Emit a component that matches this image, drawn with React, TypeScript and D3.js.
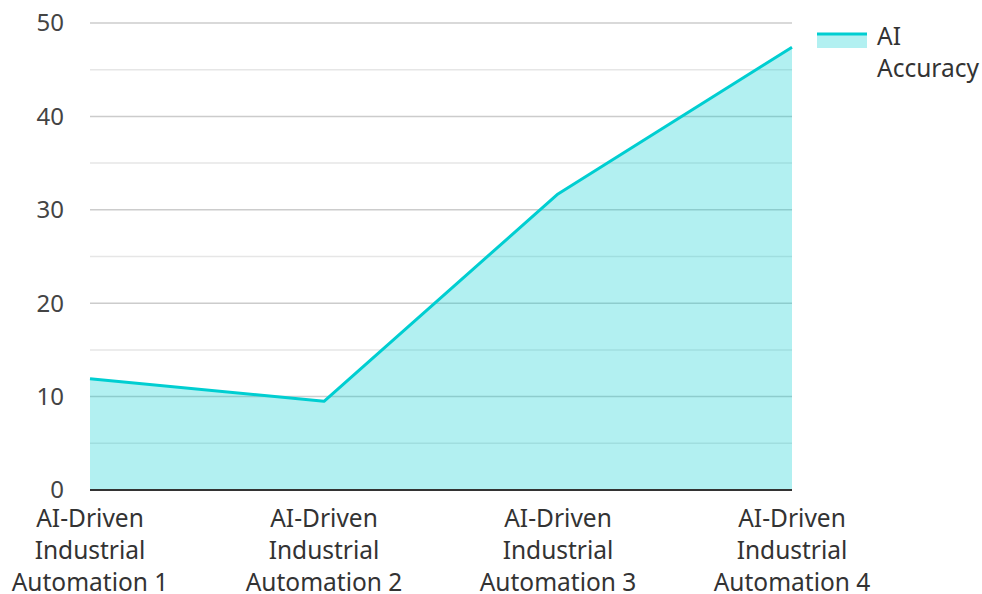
import React from "react";
import * as d3 from "d3";

const categories = [
  "AI-Driven Industrial Automation 1",
  "AI-Driven Industrial Automation 2",
  "AI-Driven Industrial Automation 3",
  "AI-Driven Industrial Automation 4",
];
const categoryLines = [
  ["AI-Driven", "Industrial", "Automation 1"],
  ["AI-Driven", "Industrial", "Automation 2"],
  ["AI-Driven", "Industrial", "Automation 3"],
  ["AI-Driven", "Industrial", "Automation 4"],
];
const accuracy = [11.9, 9.5, 31.7, 47.4];
const majorTicks = [0, 10, 20, 30, 40, 50];
const minorTicks = [5, 15, 25, 35, 45];
const seriesName = ["AI", "Accuracy"];

const W = 982;
const H = 594;
const left = 90;
const right = 792;
const top = 23;
const bottom = 490;
const color = "#00CED1";
const font = "'Noto Sans', 'Open Sans', sans-serif";

export default function App() {
  const x = d3.scalePoint<string>().domain(categories).range([left, right]);
  const y = d3.scaleLinear().domain([0, 50]).range([bottom, top]);
  const data = categories.map((c, i) => ({ c, v: accuracy[i] }));
  const line = d3
    .line<{ c: string; v: number }>()
    .x((d) => x(d.c)!)
    .y((d) => y(d.v));
  const area = d3
    .area<{ c: string; v: number }>()
    .x((d) => x(d.c)!)
    .y0(y(0))
    .y1((d) => y(d.v));

  return (
    <svg
      width={W}
      height={H}
      style={{ position: "absolute", left: 0, top: 0 }}
      fontFamily={font}
    >
      <rect width={W} height={H} fill="#fff" />
      {minorTicks.map((t) => (
        <line key={"m" + t} x1={left} x2={right} y1={y(t)} y2={y(t)} stroke="#e6e6e6" strokeWidth={1.5} />
      ))}
      {majorTicks.map((t) => (
        <line key={"g" + t} x1={left} x2={right} y1={y(t)} y2={y(t)} stroke="#cccccc" strokeWidth={1.5} />
      ))}
      <path d={area(data)!} fill={color} fillOpacity={0.3} />
      <path d={line(data)!} fill="none" stroke={color} strokeWidth={3} strokeLinejoin="round" />
      <line x1={left} x2={right} y1={y(0)} y2={y(0)} stroke="#333" strokeWidth={2} />
      {majorTicks.map((t) => (
        <text key={"t" + t} x={64} y={y(t)} dy="0.35em" textAnchor="end" fontSize={24} fill="#444">
          {t}
        </text>
      ))}
      {categories.map((c, i) => (
        <text key={c} textAnchor="middle" fontSize={24.5} fill="#333">
          {categoryLines[i].map((l, j) => (
            <tspan key={j} x={x(c)} y={527 + j * 32}>
              {l}
            </tspan>
          ))}
        </text>
      ))}
      <rect x={817} y={34} width={50} height={14} fill={color} fillOpacity={0.3} />
      <line x1={817} x2={867} y1={34} y2={34} stroke={color} strokeWidth={3} />
      {seriesName.map((s, i) => (
        <text key={s} x={877} y={36 + i * 32} dy="0.35em" fontSize={24.5} fill="#333">
          {s}
        </text>
      ))}
    </svg>
  );
}
